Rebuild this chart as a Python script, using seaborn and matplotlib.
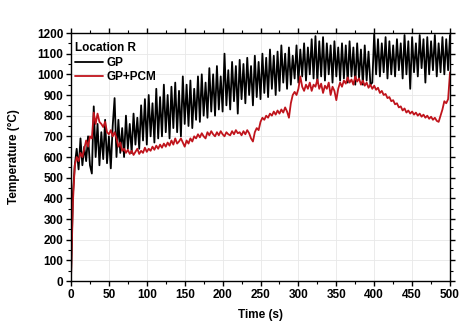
import numpy as np
import pandas as pd
import matplotlib
matplotlib.use("Agg")
import matplotlib.pyplot as plt
from matplotlib.ticker import MultipleLocator
import seaborn as sns

# Temperature at location R, sampled every 2.5 s from 0 to 500 s
gp = [
    20, 420, 560, 640, 540, 690, 560, 650, 580, 700,
    560, 520, 845, 600, 760, 560, 720, 590, 780, 570,
    700, 545, 750, 885, 600, 780, 620, 740, 600, 800,
    640, 760, 620, 810, 660, 790, 640, 850, 680, 880,
    660, 900, 700, 860, 670, 930, 690, 890, 700, 950,
    720, 900, 690, 940, 740, 960, 720, 920, 700, 990,
    760, 950, 750, 970, 740, 930, 780, 990, 770, 1000,
    800, 960, 790, 1030, 820, 1000, 800, 1040, 830, 990,
    820, 1100, 850, 1020, 830, 1060, 870, 1040, 810, 1070,
    880, 1050, 860, 1080, 900, 1040, 850, 1090, 890, 1060,
    880, 1100, 910, 1080, 890, 1120, 930, 1090, 900, 1110,
    920, 1140, 960, 1100, 930, 1130, 950, 1090, 980, 1140,
    960, 1120, 990, 1150, 970, 1130, 1000, 1170, 980, 1185,
    960, 1160, 990, 1180, 970, 1150, 1000, 1140, 960, 1160,
    990, 1130, 970, 1150, 980, 1140, 960, 1160, 990, 1130,
    950, 1150, 980, 1120, 950, 1140, 970, 1110, 950, 960,
    1200, 1000, 1170, 990, 1150, 1010, 1180, 980, 1160, 1000,
    1140, 990, 1170, 1020, 1150, 980, 1190, 1000, 1160, 930,
    1180, 1010, 1150, 990, 1190, 1030, 1170, 960, 1180, 1000,
    1160, 1020, 1190, 990, 1150, 1010, 1180, 1000, 1170, 1020,
    1190,
]

gp_pcm = [
    10, 380, 560, 600, 580, 620, 600, 640, 680, 650,
    700, 690, 815, 760, 810, 770, 760, 745, 770, 720,
    710, 730, 700, 720, 690, 650, 670, 630, 640, 620,
    635, 615, 630, 610, 625, 640, 615, 630, 620, 645,
    625, 640, 630, 650, 635, 655, 640, 660, 645, 665,
    650, 670, 655, 680, 660, 690, 665, 675, 690, 670,
    650, 680, 665, 690, 675, 700, 690, 710, 695, 715,
    700, 690, 720, 705, 725, 710, 700, 720, 705, 725,
    710, 700, 720, 710, 705, 725, 710, 730, 715, 720,
    705, 725, 710, 730, 715, 690, 675, 720, 740, 730,
    770, 790, 780, 800, 790, 810, 800, 820, 805, 825,
    810, 830, 815, 840, 820, 790, 860, 900, 915, 900,
    930, 990, 940, 920, 950, 930, 960, 920, 950, 940,
    975, 930, 955, 910, 945, 930, 960, 900, 940, 920,
    875, 930, 960, 940, 970, 955, 985, 960, 975, 950,
    990, 965, 980, 950, 970, 945, 960, 935, 950, 930,
    945, 925, 935, 910, 920, 900, 905, 885, 890, 870,
    875, 855, 860, 840, 845, 825, 835, 815, 825, 810,
    820, 805, 815, 800, 810, 795, 805, 790, 800, 785,
    795, 780, 790, 775, 770, 800, 830, 870, 860, 880,
    1010,
]

series_names = ["GP", "GP+PCM"]
series_colors = ["#000000", "#c0141c"]

time_gp = np.linspace(0, 500, len(gp))
time_pcm = np.linspace(0, 500, len(gp_pcm))

df = pd.concat([
    pd.DataFrame({"Time (s)": time_gp, "Temperature": gp, "Series": series_names[0]}),
    pd.DataFrame({"Time (s)": time_pcm, "Temperature": gp_pcm, "Series": series_names[1]}),
], ignore_index=True)

sns.set_theme(style="ticks")
plt.rcParams["font.family"] = ["Liberation Sans", "DejaVu Sans"]
plt.rcParams["font.weight"] = "bold"
plt.rcParams["text.color"] = "black"
plt.rcParams["axes.labelcolor"] = "black"

fig = plt.figure(figsize=(4.74, 3.31), dpi=100)
ax = fig.add_axes([0.1498, 0.151, 0.7996, 0.7493])

sns.lineplot(
    data=df, x="Time (s)", y="Temperature", hue="Series",
    palette=dict(zip(series_names, series_colors)),
    estimator=None, linewidth=1.3, ax=ax, legend=True,
)

ax.set_xlim(0, 500)
ax.set_ylim(0, 1200)
ax.xaxis.set_major_locator(MultipleLocator(50))
ax.xaxis.set_minor_locator(MultipleLocator(25))
ax.yaxis.set_major_locator(MultipleLocator(100))
ax.yaxis.set_minor_locator(MultipleLocator(50))

ax.grid(True, which="major", color="#e8e8e8", linewidth=0.6)
ax.set_axisbelow(True)

for side in ["left", "right", "top", "bottom"]:
    ax.spines[side].set_visible(True)
    ax.spines[side].set_color("black")
    ax.spines[side].set_linewidth(1.0)

ax.tick_params(which="both", direction="out", top=True, right=True,
               colors="black", labelsize=8.5)
ax.tick_params(which="major", length=3.5, width=1.0, pad=2)
ax.tick_params(which="minor", length=2, width=0.8)
for lab in ax.get_xticklabels() + ax.get_yticklabels():
    lab.set_fontweight("bold")

ax.set_xlabel("Time (s)", fontsize=8.5, fontweight="bold", labelpad=6)
ax.set_ylabel("Temperature (\u00b0C)", fontsize=8.5, fontweight="bold", labelpad=12)

handles, labels = ax.get_legend_handles_labels()
leg = ax.legend(
    handles, labels, title="Location R", loc="upper left",
    bbox_to_anchor=(0.004, 0.972), frameon=False,
    prop={"weight": "bold", "size": 8.5},
    title_fontproperties={"weight": "bold", "size": 8.5},
    alignment="left", handlelength=2.4, handletextpad=0.3,
    borderaxespad=0.0, borderpad=0.2, labelspacing=0.2,
)
leg.get_title().set_color("black")

fig.savefig("out.png", dpi=100, facecolor="white")
